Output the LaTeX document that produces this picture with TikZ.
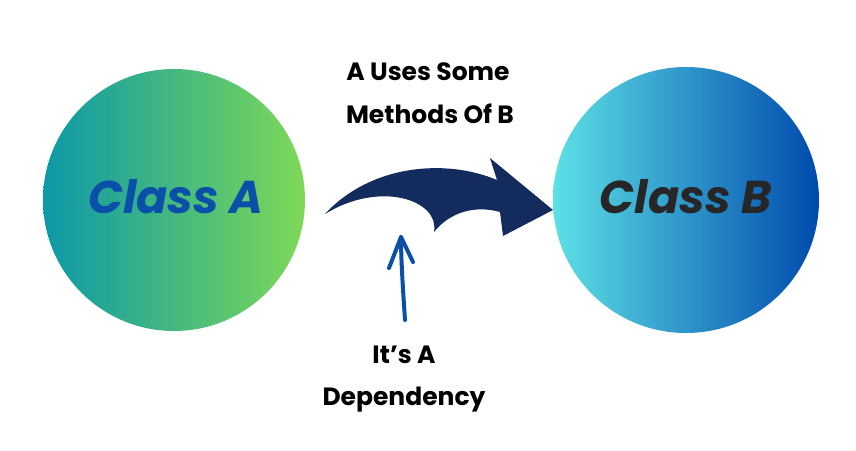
\documentclass[tikz,border=0pt]{standalone}
\usepackage{fontspec}
\setmainfont{Poppins}
\usetikzlibrary{arrows.meta}
\definecolor{tealA}{HTML}{0C98A8}
\definecolor{greenA}{HTML}{7ED957}
\definecolor{cyanB}{HTML}{5DE0E6}
\definecolor{blueB}{HTML}{004AAD}
\definecolor{navy}{HTML}{142B5E}
\definecolor{txtblue}{HTML}{0A4FA8}
\tikzset{
  lab/.style={font=\fontsize{25}{30}\selectfont\bfseries, align=center, text=black},
  cls/.style={font=\fontsize{46}{50}\selectfont\bfseries\itshape}
}
\begin{document}
\begin{tikzpicture}[x=1pt,y=-1pt]
\useasboundingbox (0,0) rectangle (856,450);
\fill[white] (0,0) rectangle (856,450);
\shade[left color=tealA, right color=greenA] (174,200) circle (131);
\shade[left color=cyanB, right color=blueB] (686,200) circle (133);
\node[cls, text=txtblue] (A) at (176,197) {Class A};
\node[cls, text=black!85] (B) at (686,197) {Class B};
\node[lab] (t1) at (428,72) {A Uses Some};
\node[lab] (t2) at (430,114) {Methods Of B};
\node[lab] (t3) at (404,355) {It’s A};
\node[lab] (t4) at (404,400) {Dependency};
% big curved arrow
\fill[navy] (325,214) .. controls (370,165) and (445,158) .. (497,180)
  -- (490,158) -- (553,210) -- (503,236) -- (500,212)
  .. controls (475,205) and (450,212) .. (434,232)
  .. controls (440,200) and (380,180) .. (325,214) -- cycle;
% small blue arrow
\coordinate (s) at (405,320);
\coordinate (e) at (401,237);
\draw[txtblue, line width=4pt, line cap=round] (s) .. controls (403,290) and (401,260) .. (e);
\draw[txtblue, line width=4pt, line cap=round, line join=round] (389,268) -- (e) -- (413,262);
\end{tikzpicture}
\end{document}
